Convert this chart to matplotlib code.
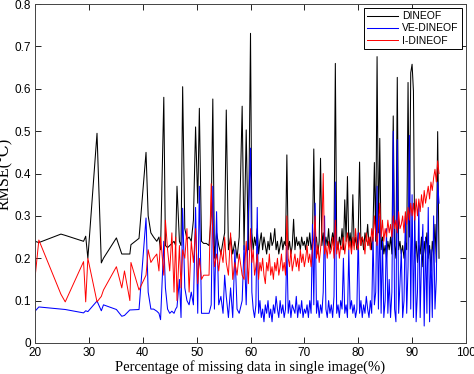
import matplotlib
matplotlib.use("Agg")
import numpy as np
import matplotlib.pyplot as plt

# missing-data percentage for each image (shared by the three methods)
x_low = [20.0, 20.7, 24.8, 25.6, 29.0, 29.4, 29.8, 31.5, 32.3, 32.7, 35.1, 36.1,
         36.6, 37.6, 37.8, 39.3]
x_mid = [40.6, 41.0, 41.5, 42.0, 42.6, 43.0, 43.3, 43.9, 44.2, 44.6, 45.0, 45.4,
         45.8, 46.1, 46.35, 46.8, 47.1, 47.4, 47.8, 48.2, 48.6, 49.0, 49.4, 49.8,
         50.2, 50.5, 50.9, 51.3, 51.8, 52.3, 52.7, 53.0, 53.3, 53.7, 54.1, 54.5,
         54.9, 55.2, 55.5, 55.9, 56.3, 56.7, 57.1, 57.5, 57.9, 58.45, 58.8, 59.2,
         59.6]
x_high = [60.0, 60.25, 60.5, 60.75, 61.0, 61.25, 61.5, 61.75, 62.0, 62.25, 62.5, 62.75,
          63.0, 63.25, 63.5, 63.75, 64.0, 64.25, 64.5, 64.75, 65.0, 65.25, 65.5, 65.75,
          66.0, 66.25, 66.5, 66.75, 67.0, 67.25, 67.5, 67.75, 68.0, 68.25, 68.5, 68.75,
          69.0, 69.25, 69.5, 69.75, 70.0, 70.25, 70.5, 70.75, 71.0, 71.25, 71.5, 71.75,
          72.0, 72.25, 72.5, 72.75, 73.0, 73.25, 73.5, 73.75, 74.0, 74.25, 74.5, 74.75,
          75.0, 75.25, 75.5, 75.75, 76.0, 76.25, 76.5, 76.75, 77.0, 77.25, 77.5, 77.75,
          78.0, 78.25, 78.5, 78.75, 79.0, 79.25, 79.5, 79.75, 80.0, 80.25, 80.5, 80.75,
          81.0, 81.25, 81.5, 81.75, 82.0, 82.25, 82.5, 82.75, 83.0, 83.25, 83.5, 83.75,
          84.0, 84.25, 84.5, 84.75, 85.0, 85.25, 85.5, 85.75, 86.0, 86.25, 86.5, 86.75,
          87.0, 87.25, 87.5, 87.75, 88.0, 88.25, 88.5, 88.75, 89.0, 89.25, 89.5, 89.75,
          90.0, 90.25, 90.5, 90.75, 91.0, 91.25, 91.5, 91.75, 92.0, 92.25, 92.5, 92.75,
          93.0, 93.25, 93.5, 93.75, 94.0, 94.25, 94.5, 94.75, 95.0]

# DINEOF
dineof_low = [0.240, 0.237, 0.257, 0.254, 0.240, 0.252, 0.200, 0.495, 0.189, 0.200,
              0.248, 0.210, 0.210, 0.210, 0.232, 0.247]
dineof_mid = [0.45, 0.30, 0.26, 0.25, 0.24, 0.25, 0.22, 0.58, 0.23, 0.225,
              0.23, 0.235, 0.24, 0.23, 0.37, 0.24, 0.23, 0.605, 0.27, 0.245,
              0.25, 0.24, 0.29, 0.51, 0.33, 0.554, 0.24, 0.235, 0.235, 0.23,
              0.30, 0.576, 0.20, 0.26, 0.23, 0.21, 0.24, 0.26, 0.55, 0.22,
              0.25, 0.21, 0.24, 0.20, 0.25, 0.559, 0.22, 0.503, 0.22]
dineof_high = [0.731, 0.26, 0.22, 0.25,  0.23, 0.27, 0.21, 0.24,  0.26, 0.22, 0.25, 0.23,
               0.21, 0.24, 0.22, 0.26,  0.23, 0.24, 0.27, 0.22,  0.24, 0.21, 0.23, 0.25,
               0.22, 0.24, 0.23, 0.444, 0.22, 0.24, 0.21, 0.23, 0.292, 0.22, 0.25, 0.23,
               0.24, 0.22, 0.25, 0.23,  0.24, 0.22, 0.25, 0.23,  0.26, 0.22, 0.24, 0.458,
               0.23, 0.25, 0.21, 0.24,  0.436, 0.23, 0.26, 0.22, 0.25, 0.23, 0.27, 0.22,
               0.24, 0.26, 0.23, 0.66,  0.24, 0.22, 0.25, 0.23,  0.27, 0.22, 0.338, 0.24,
               0.393, 0.23, 0.26, 0.22, 0.35, 0.23, 0.25, 0.22,  0.26, 0.427, 0.23, 0.25,
               0.22, 0.26, 0.24, 0.28,  0.23, 0.25, 0.22, 0.27,  0.426, 0.24, 0.676, 0.26,
               0.483, 0.22, 0.25, 0.21, 0.23, 0.20, 0.24, 0.22,  0.25, 0.21, 0.536, 0.23,
               0.20, 0.627, 0.22, 0.24, 0.21, 0.23, 0.20, 0.24,  0.22, 0.615, 0.25, 0.638,
               0.658, 0.595, 0.21, 0.24, 0.19, 0.23, 0.21, 0.25, 0.18, 0.24, 0.21, 0.26,
               0.20, 0.23, 0.17, 0.24,  0.21, 0.28, 0.19, 0.499, 0.20]

# VE-DINEOF
ve_low = [0.075, 0.085, 0.080, 0.079, 0.071, 0.076, 0.074, 0.099, 0.076, 0.090,
          0.079, 0.063, 0.065, 0.078, 0.078, 0.079]
ve_mid = [0.295, 0.12, 0.08, 0.08, 0.075, 0.07, 0.055, 0.24, 0.13, 0.08,
          0.07, 0.075, 0.07, 0.08, 0.085, 0.15, 0.06, 0.318, 0.13, 0.10,
          0.09, 0.12, 0.09, 0.32, 0.07, 0.37, 0.07, 0.07, 0.07, 0.07,
          0.09, 0.37, 0.08, 0.31, 0.09, 0.11, 0.07, 0.16, 0.11, 0.06,
          0.13, 0.06, 0.22, 0.08, 0.07, 0.10, 0.23, 0.09, 0.30]
ve_high = [0.46, 0.12, 0.08, 0.06,  0.09, 0.32, 0.07, 0.10,  0.06, 0.08, 0.05, 0.09,
           0.07, 0.10, 0.06, 0.08,  0.05, 0.09, 0.07, 0.11,  0.08, 0.06, 0.10, 0.07,
           0.09, 0.06, 0.08, 0.23,  0.07, 0.10, 0.06, 0.09,  0.08, 0.07, 0.11, 0.06,
           0.09, 0.07, 0.10, 0.06,  0.08, 0.07, 0.09, 0.06,  0.10, 0.07, 0.28, 0.09,
           0.33, 0.07, 0.10, 0.06,  0.09, 0.07, 0.12, 0.30,  0.08, 0.06, 0.10, 0.07,
           0.09, 0.06, 0.11, 0.38,  0.07, 0.09, 0.06, 0.10,  0.08, 0.20, 0.07, 0.09,
           0.06, 0.22, 0.08, 0.10,  0.07, 0.09, 0.06, 0.08,  0.26, 0.07, 0.10, 0.06,
           0.09, 0.07, 0.11, 0.08,  0.06, 0.10, 0.07, 0.25,  0.09, 0.12, 0.37, 0.08,
           0.30, 0.07, 0.24, 0.06,  0.10, 0.27, 0.07, 0.15,  0.06, 0.12, 0.50, 0.08,
           0.05, 0.48, 0.07, 0.14,  0.22, 0.06, 0.10, 0.30,  0.07, 0.18, 0.49, 0.08,
           0.35, 0.06, 0.30, 0.05,  0.12, 0.33, 0.06, 0.20,  0.28, 0.04, 0.25, 0.07,
           0.32, 0.05, 0.22, 0.06,  0.30, 0.08, 0.15, 0.38, 0.33]

# I-DINEOF
i_low = [0.155, 0.243, 0.115, 0.097, 0.192, 0.097, 0.200, 0.097, 0.110, 0.125,
         0.180, 0.130, 0.170, 0.100, 0.190, 0.125]
i_mid = [0.16, 0.22, 0.19, 0.20, 0.21, 0.17, 0.25, 0.16, 0.29, 0.22,
         0.17, 0.26, 0.12, 0.25, 0.10, 0.23, 0.13, 0.22, 0.20, 0.27,
         0.12, 0.24, 0.19, 0.27, 0.14, 0.20, 0.15, 0.16, 0.16, 0.16,
         0.376, 0.25, 0.18, 0.21, 0.17, 0.22, 0.19, 0.25, 0.19, 0.16,
         0.26, 0.15, 0.19, 0.16, 0.21, 0.16, 0.15, 0.24, 0.14]
i_high = [0.27, 0.19, 0.22, 0.16,  0.18, 0.21, 0.15, 0.19,  0.17, 0.20, 0.16, 0.14,
          0.19, 0.17, 0.21, 0.16,  0.18, 0.15, 0.19, 0.17,  0.20, 0.16, 0.18, 0.21,
          0.17, 0.19, 0.16, 0.30,  0.20, 0.18, 0.22, 0.17,  0.19, 0.21, 0.18, 0.20,
          0.17, 0.22, 0.19, 0.21,  0.18, 0.20, 0.23, 0.19,  0.21, 0.18, 0.22, 0.25,
          0.30, 0.20, 0.23, 0.19,  0.22, 0.26, 0.40, 0.21,  0.23, 0.20, 0.24, 0.21,
          0.22, 0.25, 0.20, 0.29,  0.21, 0.24, 0.20, 0.23,  0.22, 0.25, 0.21, 0.24,
          0.26, 0.22, 0.24, 0.21,  0.25, 0.22, 0.27, 0.23,  0.22, 0.26, 0.23, 0.25,
          0.24, 0.21, 0.26, 0.23,  0.25, 0.22, 0.27, 0.24,  0.30, 0.26, 0.23, 0.28,
          0.33, 0.25, 0.29, 0.24,  0.27, 0.25, 0.29, 0.26,  0.28, 0.25, 0.30, 0.27,
          0.29, 0.26, 0.31, 0.27,  0.28, 0.30, 0.26, 0.31,  0.28, 0.32, 0.29, 0.33,
          0.30, 0.33, 0.29, 0.34,  0.30, 0.34, 0.31, 0.35,  0.32, 0.36, 0.33, 0.35,
          0.37, 0.34, 0.38, 0.36,  0.39, 0.41, 0.38, 0.43, 0.40]

x = x_low + x_mid + x_high
dineof = dineof_low + dineof_mid + dineof_high
ve = ve_low + ve_mid + ve_high
idin = i_low + i_mid + i_high

fig = plt.figure(figsize=(4.74, 3.74), dpi=100)
ax = fig.add_axes([0.074, 0.083, 0.909, 0.906])

ax.plot(x, dineof, color="black", lw=0.75, label="DINEOF")
ax.plot(x, ve, color="blue", lw=0.75, label="VE-DINEOF")
ax.plot(x, idin, color="red", lw=0.7, label="I-DINEOF")

ax.set_xlim(20, 100)
ax.set_ylim(0, 0.8)
ax.set_xticks(np.arange(20, 101, 10))
ax.set_yticks(np.arange(0, 0.81, 0.1))
ax.set_yticklabels(["0", "0.1", "0.2", "0.3", "0.4", "0.5", "0.6", "0.7", "0.8"])
ax.tick_params(direction="in", top=True, right=True, length=4, width=0.6,
               labelsize=8.5, pad=3)
for lab in ax.get_xticklabels() + ax.get_yticklabels():
    lab.set_family(["Liberation Sans", "DejaVu Sans"])
for s in ax.spines.values():
    s.set_linewidth(0.7)
    s.set_color("#444444")

ax.set_xlabel("Percentage of missing data in single image(%)",
              family=["Liberation Serif", "DejaVu Serif"], fontsize=10.5, labelpad=1)
ax.set_ylabel("RMSE(℃)", family=["Liberation Serif", "DejaVu Serif"],
              fontsize=11.5, labelpad=2)

leg = ax.legend(loc="upper right", fontsize=7.5, fancybox=False, framealpha=1,
                edgecolor="black", borderaxespad=0.4, handlelength=3.0,
                borderpad=0.3, labelspacing=0.2, handletextpad=0.4)
leg.get_frame().set_linewidth(0.7)
for t in leg.get_texts():
    t.set_family(["Liberation Sans", "DejaVu Sans"])

fig.savefig("out.png", dpi=100)
